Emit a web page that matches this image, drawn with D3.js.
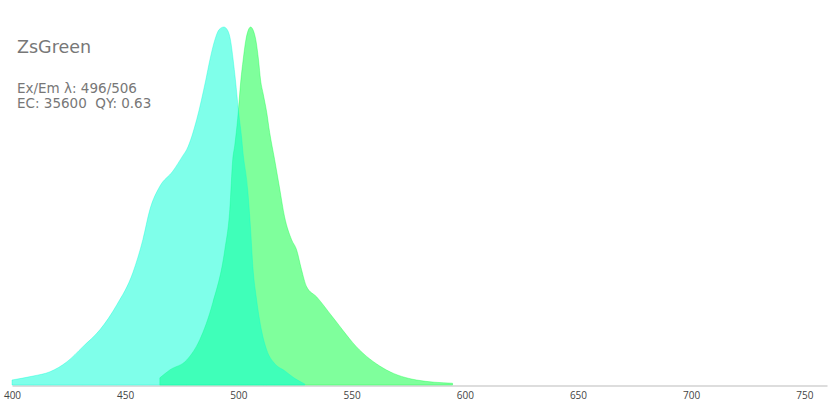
<!DOCTYPE html>
<html><head><meta charset="utf-8">
<script src="https://cdn.jsdelivr.net/npm/d3@7"></script>
<style>body{margin:0;background:#fff}svg{display:block}</style>
</head><body>
<svg id="chart" width="840" height="420"></svg>
<script>
const tickValues = [400, 450, 500, 550, 600, 650, 700, 750];
const exWavelengths = [400, 409.3, 416.8, 424.3, 431.3, 438.8, 446.3, 453.4, 457.8, 460.9, 465.3, 471.0, 475.4, 477.2, 481.6, 485.6, 487.4, 489.6, 491.5, 493.6, 495.3, 496.5, 497.7, 498.7, 500.1, 501.5, 501.9, 504.1, 505.4, 506.4, 508.0, 510.3, 512.5, 516.0, 520.4, 525, 529.3];
const exValues      = [0.014, 0.025, 0.037, 0.065, 0.107, 0.154, 0.224, 0.314, 0.406, 0.49, 0.555, 0.597, 0.64, 0.658, 0.742, 0.852, 0.908, 0.964, 0.993, 1.0, 0.99, 0.964, 0.908, 0.852, 0.762, 0.686, 0.658, 0.546, 0.434, 0.33, 0.24, 0.15, 0.098, 0.06, 0.04, 0.018, 0.003];
const emWavelengths = [465.3, 469.7, 477.2, 482.9, 488.7, 494.0, 496.2, 497.5, 498.4, 499.7, 501.1, 502.1, 503.3, 504.3, 505.4, 506.6, 507.7, 508.9, 509.8, 510.9, 512.5, 513.8, 516.0, 518.2, 520.4, 523.5, 525.7, 527.9, 530.1, 534.6, 541.6, 553.5, 565.4, 578.7, 594.6];
const emValues      = [0.02, 0.042, 0.07, 0.126, 0.23, 0.378, 0.49, 0.63, 0.67, 0.745, 0.852, 0.908, 0.964, 0.99, 1.0, 0.99, 0.964, 0.908, 0.852, 0.815, 0.762, 0.706, 0.63, 0.55, 0.47, 0.406, 0.378, 0.322, 0.275, 0.246, 0.19, 0.098, 0.042, 0.014, 0.005];
const title = "ZsGreen";
const infoLines = ["Ex/Em \u03bb: 496/506", "EC: 35600\u00a0\u00a0QY: 0.63"];

const svg = d3.select("#chart");
const x = d3.scaleLinear().domain([400, 760]).range([12, 827]);
const y = d3.scaleLinear().domain([0, 1]).range([385, 27]);

// baseline axis
const axis = d3.axisBottom(x).tickValues(tickValues).tickSize(0).tickPadding(6).tickFormat(d3.format("d"));
const gAxis = svg.append("g").attr("transform", "translate(0,385.5)").call(axis);
gAxis.select(".domain").attr("stroke", "#ddd").attr("stroke-width", 2);
gAxis.selectAll("text").attr("fill", "#444").attr("font-family", "Open Sans, sans-serif").attr("font-size", 10);

const area = d3.area().x(d => x(d[0])).y0(y(0)).y1(d => y(d[1])).curve(d3.curveMonotoneX);
const emData = d3.zip(emWavelengths, emValues);
const exData = d3.zip(exWavelengths, exValues);

svg.append("path").datum(emData).attr("d", area)
  .attr("fill", "#00ff3a").attr("fill-opacity", 0.5)
  .attr("stroke", "#00ff3a").attr("stroke-opacity", 0.35).attr("stroke-width", 1);
svg.append("path").datum(exData).attr("d", area)
  .attr("fill", "#00ffd5").attr("fill-opacity", 0.5)
  .attr("stroke", "#00ffd5").attr("stroke-opacity", 0.35).attr("stroke-width", 1);

svg.append("text").attr("x", 17).attr("y", 52.5).text(title)
  .attr("font-family", "DejaVu Sans, sans-serif").attr("font-size", 17.5).attr("fill", "#777");
svg.selectAll("text.info").data(infoLines).enter().append("text").attr("class", "info")
  .attr("x", 17).attr("y", (d, i) => 93.3 + i * 15).text(d => d)
  .attr("font-family", "DejaVu Sans, sans-serif").attr("font-size", 13.5).attr("fill", "#777");
</script>
</body></html>
